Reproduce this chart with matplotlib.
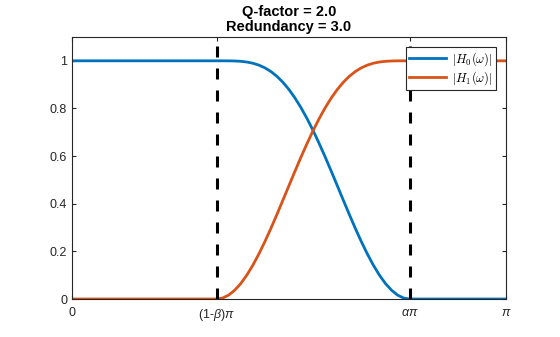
import numpy as np
import matplotlib
matplotlib.use('Agg')
import matplotlib.pyplot as plt

# frequency samples, in units of pi (flat pass band, transition band, flat stop band)
w_frac = [0] + [k / 72 for k in range(24, 57)] + [1]
# |H0(w)|
h0 = [1.0,
      1.0, 1.0, 0.99986, 0.99931, 0.99788, 0.99496, 0.98990, 0.98198, 0.97054,
      0.95497, 0.93478, 0.90960, 0.87921, 0.84356, 0.80278, 0.75715, 0.70711,
      0.65324, 0.59627, 0.53703, 0.47645, 0.41549, 0.35524, 0.29670, 0.24095,
      0.18899, 0.14179, 0.10027, 0.06508, 0.03713, 0.01658, 0.00417, 0.0,
      0.0]
# |H1(w)|
h1 = [0.0,
      0.0, 0.00417, 0.01658, 0.03713, 0.06508, 0.10027, 0.14179, 0.18899, 0.24095,
      0.29670, 0.35524, 0.41549, 0.47645, 0.53703, 0.59627, 0.65324, 0.70711,
      0.75715, 0.80278, 0.84356, 0.87921, 0.90960, 0.93478, 0.95497, 0.97054,
      0.98198, 0.98990, 0.99496, 0.99788, 0.99931, 0.99986, 1.0, 1.0,
      1.0]
band_edges = [1/3, 7/9]
xtick_pos = [0, 1/3, 7/9, 1]
xtick_labels = ['0', r'(1-$\beta$)$\pi$', r'$\alpha\pi$', r'$\pi$']
yticks = [0, 0.2, 0.4, 0.6, 0.8, 1]
ytick_labels = ['0', '0.2', '0.4', '0.6', '0.8', '1']

plt.rcParams['font.family'] = ['Liberation Sans', 'DejaVu Sans']
plt.rcParams['mathtext.fontset'] = 'custom'
plt.rcParams['mathtext.it'] = 'Liberation Sans:italic'
plt.rcParams['mathtext.rm'] = 'Liberation Sans'

fig = plt.figure(figsize=(5.6, 3.37), dpi=100)
ax = fig.add_axes([72/560, 38/337, 434/560, 262/337])

w = np.array(w_frac) * np.pi
ax.plot(w, h0, color='#0072BD', lw=2, label=r'$|H_0(\omega)|$')
ax.plot(w, h1, color='#D95319', lw=2, label=r'$|H_1(\omega)|$')
for e in band_edges:
    ax.plot([e * np.pi, e * np.pi], [0, 1.1], color='black', lw=2.2,
            ls=(0, (3.6, 3.6)), zorder=3)

ax.set_xlim(0, np.pi)
ax.set_ylim(0, 1.1)
ax.set_xticks(np.array(xtick_pos) * np.pi)
ax.set_xticklabels(xtick_labels)
ax.set_yticks(yticks)
ax.set_yticklabels(ytick_labels)
ax.tick_params(axis='both', direction='in', labelsize=9, colors='#262626',
               length=2.6, width=0.8, top=True, right=True)
ax.tick_params(axis='x', pad=6)
for s in ax.spines.values():
    s.set_color('#262626')
    s.set_linewidth(0.8)

ax.set_title('Q-factor = 2.0\nRedundancy = 3.0', fontsize=10.5, fontweight='bold',
             linespacing=1.1, pad=4)

with plt.rc_context({'mathtext.fontset': 'cm'}):
    leg = ax.legend(loc='upper right', bbox_to_anchor=(0.977, 0.962), borderaxespad=0,
                    fontsize=9, fancybox=False, edgecolor='#262626', framealpha=1,
                    handlelength=3.0, handletextpad=0.5, borderpad=0.25,
                    labelspacing=0.1)
leg.get_frame().set_linewidth(0.8)

fig.savefig('out.png', dpi=100)
